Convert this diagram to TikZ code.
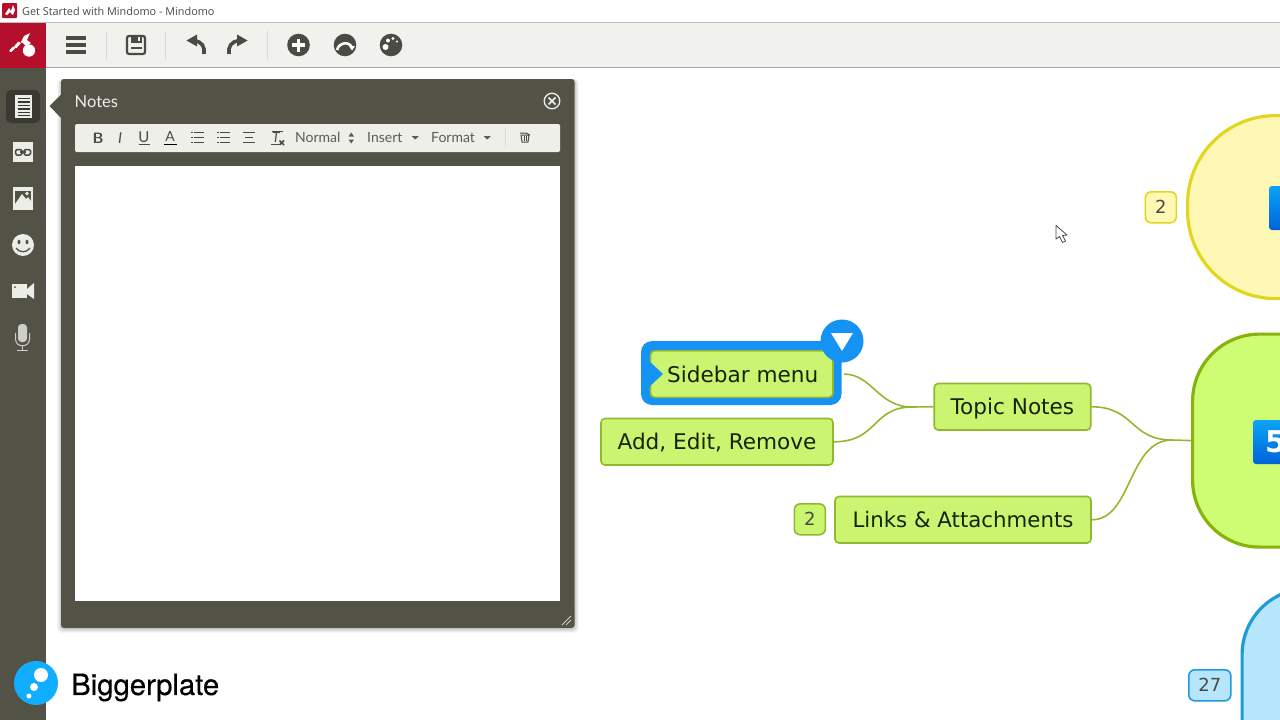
\documentclass[tikz,border=0pt]{standalone}
\usepackage{fontspec}
\setmainfont{Lato}
\newfontfamily\mapfont{DejaVu Sans}
\newfontfamily\titlefont{Open Sans}
\newfontfamily\brandfont[FakeBold=0.35]{TeX Gyre Heros}
\usetikzlibrary{calc}
\definecolor{dark}{HTML}{535246}
\definecolor{darker}{HTML}{3A3931}
\definecolor{barbg}{HTML}{F1F1ED}
\definecolor{toolbg}{HTML}{EFEFEA}
\definecolor{icon}{HTML}{4B4B43}
\definecolor{tooltext}{HTML}{5C5C55}
\definecolor{sideicon}{HTML}{EDEDE8}
\definecolor{redlogo}{HTML}{B40F2B}
\definecolor{grn}{HTML}{CBF571}
\definecolor{grnline}{HTML}{93B82F}
\definecolor{biggrn}{HTML}{CEFD74}
\definecolor{biggrnline}{HTML}{86B40A}
\definecolor{yel}{HTML}{FFF8B4}
\definecolor{yelline}{HTML}{E2D71E}
\definecolor{lblue}{HTML}{B5E6FC}
\definecolor{lblueline}{HTML}{1E9BD8}
\definecolor{sel}{HTML}{1593F5}
\definecolor{gradtop}{HTML}{0CA4F5}
\definecolor{gradbot}{HTML}{0062DA}
\definecolor{brand}{HTML}{11ADFF}
\definecolor{mapink}{HTML}{17240A}
\tikzset{
  x=1pt,y=-1pt,
  topic/.style={draw=grnline,fill=grn,line width=1.6pt,rounded corners=4pt,inner sep=0pt,anchor=north west,text=mapink,text height=20pt,text depth=4pt,font=\mapfont\fontsize{21.6}{26}\selectfont},
  badge/.style={rounded corners=6pt,line width=1.6pt,inner sep=0pt,anchor=north west,font=\mapfont\fontsize{18}{22}\selectfont,text=icon},
  link/.style={draw=grnline,line width=1.6pt},
  tbtext/.style={text=tooltext,inner sep=0pt,font=\fontsize{14}{16}\selectfont},
  glyph/.style={text=icon,inner sep=0pt},
  tline/.style={draw=icon,line width=1.3pt},
  bigline/.style={line width=3.2pt},
}
\begin{document}
\begin{tikzpicture}
\useasboundingbox (0,0) rectangle (1280,720);
\fill[white] (0,0) rectangle (1280,720);
% title bar
\fill[redlogo,rounded corners=1pt] (2,3) rectangle (17,18);
\fill[white] (5,14) -- (9,8) -- (11,11) -- (13,5) -- (15,10) -- (13,15) -- (10,12) -- (7,15) -- cycle;
\node[anchor=west,inner sep=0pt,text=icon,font=\titlefont\fontsize{10.87}{14}\selectfont] (title) at (22,11) {Get Started with Mindomo - Mindomo};
% top toolbar
\fill[barbg] (46,23) rectangle (1280,67);
\draw[black!25,line width=0.8pt] (0,22.5) -- (1280,22.5);
\draw[black!35,line width=0.8pt] (46,67.5) -- (1280,67.5);
\fill[redlogo] (0,23) rectangle (46,68);
\fill[dark] (0,68) rectangle (46,720);
% red logo mark
\fill[white] (29,50.5) circle (6.2);
\draw[white,line width=2.6pt,line cap=round] (10.5,51) -- (14,47.5);
\draw[white,line width=3pt,line cap=round] (15.5,47) -- (19,43);
\fill[white] (20,44) -- (24,36) -- (30,33) -- (27,40) -- (31,43) -- (26,46) -- (22,42) -- cycle;
% top icons
\foreach \yy in {38,45,52}{\fill[icon] (66,\yy-1.8) rectangle (86,\yy+1.8);}
\foreach \xx in {106,165,267}{\draw[black!15,line width=0.8pt] (\xx,31) -- (\xx,60);}
\draw[icon,line width=2.2pt,rounded corners=2pt] (127,36) rectangle (145,54);
\fill[icon] (131,35) rectangle (142,43);
\fill[barbg] (138,37) rectangle (140,41);
\fill[icon] (131,47) rectangle (142,49);
\draw[icon,line width=3.6pt] (194,41) .. controls (202,41) and (205,47) .. (204,54);
\fill[icon] (186.5,40.5) -- (197,34.5) -- (197,46.5) -- cycle;
\draw[icon,line width=3.6pt] (239,41) .. controls (231,41) and (228,47) .. (229,54);
\fill[icon] (247.5,40.5) -- (237,34.5) -- (237,46.5) -- cycle;
\fill[icon] (298.5,45) circle (11.3);
\fill[white] (292,43.2) rectangle (305,46.8);
\fill[white] (296.7,38.5) rectangle (300.3,51.5);
\fill[icon] (345,45) circle (11.3);
\draw[white,line width=2.6pt] (337,50) .. controls (339,42) and (350,41) .. (352,48);
\fill[white] (349,46) -- (355,46) -- (352,50.5) -- cycle;
\fill[icon] (391,45) circle (11.3);
\fill[white] (385.5,47) circle (3);
\fill[white] (388,40.5) circle (2);
\fill[white] (393,38.5) circle (1.6);
\fill[white] (397,41.5) circle (1.2);
% side icons
\fill[darker,rounded corners=5pt] (6,90) rectangle (40,123);
\fill[sideicon] (15,95) rectangle (32,118);
\foreach \yy in {98.5,102,105.5,109,112.5,115.5}{\draw[darker,line width=1.1pt] (17.5,\yy) -- (29.5,\yy);}
\fill[sideicon] (13,142) rectangle (33,162);
\draw[icon,line width=1.5pt,rounded corners=1.5pt] (15.5,149.5) rectangle (22,155);
\draw[icon,line width=1.5pt,rounded corners=1.5pt] (24,149.5) rectangle (30.5,155);
\draw[icon,line width=1.5pt] (20,152.2) -- (26,152.2);
\fill[sideicon] (13,187) rectangle (33,210);
\fill[dark] (15,191) rectangle (31,204);
\fill[sideicon] (15,204) -- (22,194) -- (26,199) -- (28,197) -- (31,201) -- (31,206) -- (15,206) -- cycle;
\fill[sideicon] (27,193.5) circle (1.8);
\fill[sideicon] (23,245) circle (11);
\fill[dark] (19,242) ellipse (1.5 and 2.3);
\fill[dark] (27,242) ellipse (1.5 and 2.3);
\draw[dark,line width=1.3pt] (16,248) .. controls (19,253) and (27,253) .. (30,248);
\fill[sideicon] (12,284) rectangle (27,298);
\fill[sideicon] (27,289) -- (34,283) -- (34,299) -- (27,294) -- cycle;
\fill[dark] (15,287) circle (1);
\fill[sideicon!80!dark,rounded corners=3.5pt] (18,324) rectangle (27,342);
\draw[sideicon!80!dark,line width=1pt] (15.5,333) -- (15.5,339) .. controls (15.5,348) and (29.5,348) .. (29.5,339) -- (29.5,333);
\draw[sideicon!80!dark,line width=1.4pt] (22.5,346) -- (22.5,350) (17,350.5) -- (28,350.5);
% notes panel
\foreach \gr/\op in {4/0.03,3/0.04,2/0.05,1/0.07}{
  \fill[black,opacity=\op,rounded corners=4pt] (61-\gr,79) rectangle (575+\gr,628+\gr+1);
}
\fill[dark,rounded corners=3pt] (61,79) rectangle (574.5,628);
\fill[dark] (49.5,106) -- (61,94.5) -- (61,118) -- cycle;
\node[anchor=west,inner sep=0pt,text=white!90!dark,font=\fontsize{16.5}{20}\selectfont] (notes) at (74.5,101.5) {Notes};
\draw[white!92!dark,line width=1.3pt] (552,101) circle (7.8);
\draw[white!92!dark,line width=1.6pt] (548.5,97.5) -- (555.5,104.5) (555.5,97.5) -- (548.5,104.5);
\fill[toolbg,rounded corners=1.5pt] (75,124) rectangle (560,152);
\fill[white] (75,166) rectangle (560,601);
\draw[white!70!dark,line width=0.8pt] (571,616) -- (562,625) (571,620) -- (566,625);
% format toolbar
\node[glyph,font=\fontsize{15}{17}\selectfont\bfseries\sffamily] (fb) at (98,138) {B};
\node[glyph,font=\fontsize{15}{17}\selectfont\itshape] (fi) at (120,138) {I};
\node[glyph,font=\fontsize{15}{17}\selectfont] (fu) at (144,137) {U};
\draw[icon,line width=1.2pt] (138.5,144.5) -- (149.5,144.5);
\node[glyph,font=\fontsize{14}{16}\selectfont] (fa) at (170,136.5) {A};
\draw[black,line width=1.6pt] (163.5,144.5) -- (176.5,144.5);
\foreach \yy in {132.5,137.5,142.5}{
  \draw[tline] (194,\yy) -- (204,\yy);
  \draw[tline] (191,\yy) -- (192.5,\yy);
  \draw[tline] (220,\yy) -- (230,\yy);
  \draw[tline] (217,\yy) -- (218.5,\yy);
}
\draw[tline] (243,132.5) -- (255,132.5) (245,137.5) -- (253,137.5) (243,142.5) -- (255,142.5);
\draw[tline] (272,131.5) -- (283,131.5);
\node[glyph,font=\fontsize{14}{16}\selectfont\itshape] (ftx) at (276,137.5) {T};
\draw[tline] (271,144.5) -- (279,144.5);
\draw[icon,line width=1.5pt] (279.5,140.5) -- (284,145) (284,140.5) -- (279.5,145);
\node[tbtext,anchor=base west] (fnormal) at (295,142.5) {Normal};
\fill[tooltext] (348.5,136.5) -- (354,136.5) -- (351.2,132.5) -- cycle;
\fill[tooltext] (348.5,139.5) -- (354,139.5) -- (351.2,143.5) -- cycle;
\node[tbtext,anchor=base west] (finsert) at (367,142.5) {Insert};
\fill[tooltext] (411.5,136) -- (419,136) -- (415.2,139.5) -- cycle;
\node[tbtext,anchor=base west] (fformat) at (431,142.5) {Format};
\fill[tooltext] (483.5,136) -- (491,136) -- (487.2,139.5) -- cycle;
\draw[black!15,line width=0.8pt] (505.5,128) -- (505.5,147);
\draw[icon,line width=1pt] (521,135) -- (522,142) -- (528,142) -- (529,135) -- cycle;
\draw[icon,line width=1pt] (520,133) -- (526,133) -- (530,135);
\draw[icon,line width=.6pt] (524,136) -- (524,141) (526,136) -- (526,141);
% big map shapes, clipped by page
\begin{scope}
\clip (0,0) rectangle (1280,720);
\node[draw=yelline,fill=yel,bigline,rounded corners=88pt,minimum width=400pt,minimum height=183pt,anchor=north west,inner sep=0pt] (yellowmain) at (1186,114) {};
\node[draw=biggrnline,fill=biggrn,bigline,rounded corners=67pt,minimum width=400pt,minimum height=213pt,anchor=north west,inner sep=0pt] (greenmain) at (1191,332.5) {};
\node[draw=lblueline,fill=lblue,bigline,rounded corners=66pt,minimum width=400pt,minimum height=300pt,anchor=north west,inner sep=0pt] (bluemain) at (1240.5,587) {};
\shade[top color=gradtop,bottom color=gradbot,rounded corners=3pt] (1269,186) rectangle (1300,230);
\shade[top color=gradtop,bottom color=gradbot,rounded corners=3pt] (1253,420) rectangle (1300,464);
\node[anchor=west,inner sep=0pt,text=white,font=\mapfont\bfseries\fontsize{30}{34}\selectfont] (five) at (1265,442) {5};
\end{scope}
% badges
\node[badge,draw=yelline,fill=yel,minimum width=31pt,minimum height=31pt] (by) at (1144.5,191) {2};
\node[badge,draw=grnline,fill=grn,minimum width=31pt,minimum height=31pt] (bg) at (793.5,503) {2};
\node[badge,draw=lblueline,fill=lblue,minimum width=42pt,minimum height=31pt] (bb) at (1188,669) {27};
% topics
\node[topic,minimum width=156.5pt,minimum height=46.5pt] (tn) at (933.4,382.7) {Topic Notes};
\node[topic,minimum width=256pt,minimum height=46.5pt] (la) at (834.2,495.7) {\fontsize{21.3}{26}\selectfont Links \& Attachments};
\node[topic,minimum width=232pt,minimum height=46.5pt] (ae) at (600.2,417.7) {Add, Edit, Remove};
\fill[sel,rounded corners=11pt] (641,341) rectangle (841.5,405);
\node[topic,minimum width=182.5pt,minimum height=46.5pt] (sb) at (649.7,350) {\hspace*{2pt}Sidebar menu};
\fill[sel] (649,361) -- (663,374) -- (649,387) -- cycle;
\fill[sel] (842,341) circle (21.5);
\fill[white] (831,333) -- (853,333) -- (842,351) -- cycle;
% connectors
\coordinate (j1) at (912,407);
\coordinate (j2) at (1172,440);
\coordinate (sbout) at ($(sb.east)+(10,0)$);
\draw[link] (sbout) .. controls (872,374) and (878,407) .. (j1) -- (tn.west);
\draw[link] (ae.east) .. controls (878,442) and (872,407) .. (j1);
\draw[link] (tn.east) .. controls (1135,407) and (1130,440) .. (j2) -- (greenmain.west);
\draw[link] (la.east) .. controls (1132,520) and (1128,440) .. (j2);
% cursor
\draw[icon,fill=white,line width=0.8pt,line join=round] (1056,225.5) -- (1056,239) -- (1059.5,236.5) -- (1062.5,242.5) -- (1065.5,241) -- (1062.5,235.5) -- (1067,235) -- cycle;
% brand
\fill[brand] (36,683) circle (22);
\fill[white] (41,675) circle (7);
\fill[white] (34,687) circle (4);
\fill[white] (29,696) circle (2.5);
\node[anchor=west,inner sep=0pt,text=black,font=\brandfont\fontsize{29.3}{34}\selectfont] (biggerplate) at (71,687.5) {Biggerplate};
\end{tikzpicture}
\end{document}
